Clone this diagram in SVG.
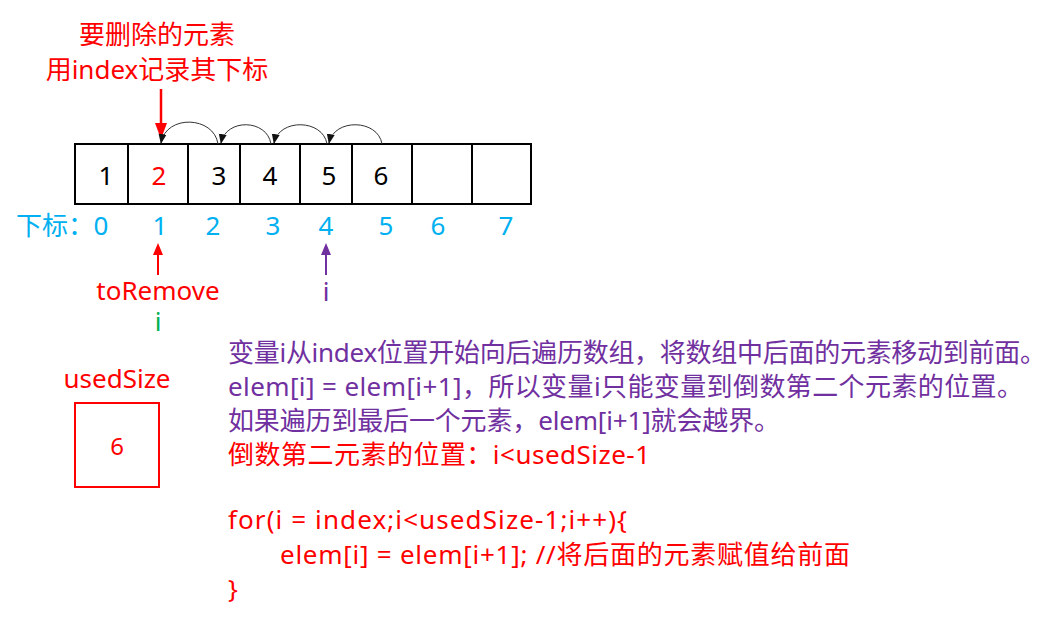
<svg xmlns="http://www.w3.org/2000/svg" width="1061" height="623" viewBox="0 0 1061 623">
<style>
text{font-family:"Noto Sans","Noto Sans CJK SC",sans-serif;font-size:26px}
.red{fill:#FF0000}
.blue{fill:#00B0F0}
.purple{fill:#7030A0}
.green{fill:#00B050}
.black{fill:#000}
.cell{fill:#fff;stroke:#000;stroke-width:2}
.arc{fill:none;stroke:#333;stroke-width:1}
.mid{text-anchor:middle}
</style>
<defs>
<marker id="ah" viewBox="0 0 10 10" refX="9" refY="5" markerWidth="10" markerHeight="10" markerUnits="userSpaceOnUse" orient="auto">
<path d="M0,1 L10,5 L0,9 z" fill="#111"/>
</marker>
</defs>
<rect width="1061" height="623" fill="#fff"/>
<g id="title">
<text class="red mid" x="157" y="44">要删除的元素</text>
<text class="red mid" x="157" y="79">用index记录其下标</text>
</g>
<g id="array">
<rect class="cell" x="75" y="144" width="53" height="60"/>
<rect class="cell" x="128" y="144" width="60" height="60"/>
<rect class="cell" x="188" y="144" width="52" height="60"/>
<rect class="cell" x="240" y="144" width="60" height="60"/>
<rect class="cell" x="300" y="144" width="52" height="60"/>
<rect class="cell" x="352" y="144" width="60" height="60"/>
<rect class="cell" x="412" y="144" width="60" height="60"/>
<rect class="cell" x="472" y="144" width="59" height="60"/>
<g style="font-size:24px">
<text class="black mid" x="106" y="185">1</text>
<text class="red mid" x="159" y="185">2</text>
<text class="black mid" x="219" y="185">3</text>
<text class="black mid" x="270" y="185">4</text>
<text class="black mid" x="329" y="185">5</text>
<text class="black mid" x="381" y="185">6</text>
</g>
</g>
<g id="indices">
<text class="blue" x="16" y="235">下标：</text>
<text class="blue mid" x="101" y="235">0</text>
<text class="blue mid" x="160" y="235">1</text>
<text class="blue mid" x="213" y="235">2</text>
<text class="blue mid" x="273" y="235">3</text>
<text class="blue mid" x="326" y="235">4</text>
<text class="blue mid" x="386" y="235">5</text>
<text class="blue mid" x="438" y="235">6</text>
<text class="blue mid" x="506" y="235">7</text>
</g>
<g id="connectors">
<line x1="161" y1="89" x2="161" y2="124" stroke="#FF0000" stroke-width="2.5"/>
<path d="M155,123 L167,123 L161,139 z" fill="#FF0000"/>
<path class="arc" d="M218,144 C214,116 166,114 161,143" marker-end="url(#ah)"/>
<path class="arc" d="M271,144 C267,119 226,118 221,143" marker-end="url(#ah)"/>
<path class="arc" d="M327,144 C323,119 279,118 274,143" marker-end="url(#ah)"/>
<path class="arc" d="M382,144 C378,119 334,118 329,143" marker-end="url(#ah)"/>
<line x1="158" y1="275" x2="158" y2="254" stroke="#FF0000" stroke-width="2"/>
<path d="M153,255 L163,255 L158,243 z" fill="#FF0000"/>
<line x1="326" y1="275" x2="326" y2="254" stroke="#7030A0" stroke-width="2"/>
<path d="M321,255 L331,255 L326,243 z" fill="#7030A0"/>
</g>
<g id="toRemove">
<text class="red mid" x="158" y="300">toRemove</text>
<text class="green mid" x="158" y="331">i</text>
</g>
<g id="i-label">
<text class="purple mid" x="326" y="301">i</text>
</g>
<g id="usedSize">
<text class="red mid" x="117" y="388">usedSize</text>
<rect x="75" y="403" width="84" height="84" fill="none" stroke="#FF0000" stroke-width="2"/>
<text class="red mid" x="117" y="455" style="font-size:24px">6</text>
</g>
<g id="explanation">
<text class="purple" x="228" y="362" textLength="818" lengthAdjust="spacing">变量i从index位置开始向后遍历数组，将数组中后面的元素移动到前面。</text>
<text class="purple" x="228" y="396" textLength="795" lengthAdjust="spacing">elem[i] = elem[i+1]，所以变量i只能变量到倒数第二个元素的位置。</text>
<text class="purple" x="228" y="430" textLength="552" lengthAdjust="spacing">如果遍历到最后一个元素，elem[i+1]就会越界。</text>
<text class="red" x="228" y="464" textLength="422" lengthAdjust="spacing">倒数第二元素的位置：i&lt;usedSize-1</text>
</g>
<g id="code">
<text class="red" x="228" y="529" textLength="399" lengthAdjust="spacing">for(i = index;i&lt;usedSize-1;i++){</text>
<text class="red" x="280" y="564" textLength="570" lengthAdjust="spacing">elem[i] = elem[i+1]; //将后面的元素赋值给前面</text>
<text class="red" x="228" y="598">}</text>
</g>
</svg>
